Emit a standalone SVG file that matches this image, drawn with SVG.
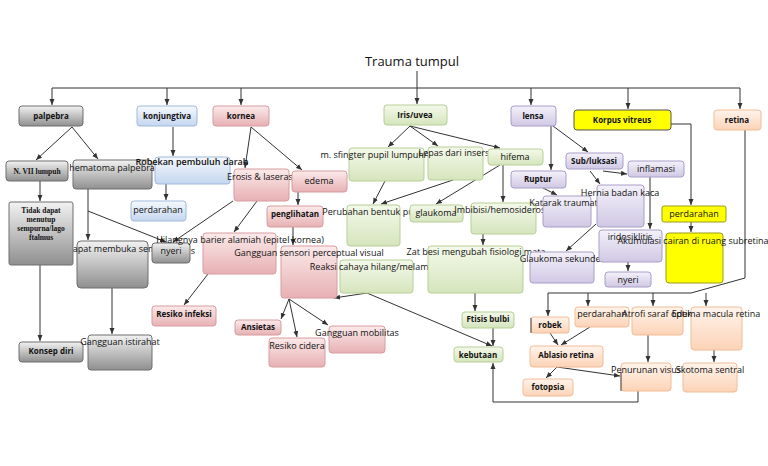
<svg xmlns="http://www.w3.org/2000/svg" width="768" height="466" viewBox="0 0 768 466">
<defs>
<linearGradient id="gGray" x1="0" y1="0" x2="0" y2="1"><stop offset="0" stop-color="#f2f2f2"/><stop offset="1" stop-color="#8f8f8f"/></linearGradient>
<linearGradient id="gBlue" x1="0" y1="0" x2="0" y2="1"><stop offset="0" stop-color="#f5f9fd"/><stop offset="1" stop-color="#c4d6ef"/></linearGradient>
<linearGradient id="gPink" x1="0" y1="0" x2="0" y2="1"><stop offset="0" stop-color="#fbeaea"/><stop offset="1" stop-color="#e7b0b3"/></linearGradient>
<linearGradient id="gGreen" x1="0" y1="0" x2="0" y2="1"><stop offset="0" stop-color="#f4f9ea"/><stop offset="1" stop-color="#d5e5bd"/></linearGradient>
<linearGradient id="gLav" x1="0" y1="0" x2="0" y2="1"><stop offset="0" stop-color="#f4f1fa"/><stop offset="1" stop-color="#d0c8e4"/></linearGradient>
<linearGradient id="gPeach" x1="0" y1="0" x2="0" y2="1"><stop offset="0" stop-color="#fff4ec"/><stop offset="1" stop-color="#fcd3b6"/></linearGradient>
<marker id="arr" markerWidth="6" markerHeight="6" refX="6" refY="3" orient="auto" markerUnits="userSpaceOnUse"><path d="M0,0.5 L6,3 L0,5.5z" fill="#333"/></marker>
</defs>
<style>
.gray{fill:url(#gGray);stroke:#6e6e6e;stroke-width:1}
.blue{fill:url(#gBlue);stroke:#9fb9dd;stroke-width:1}
.pink{fill:url(#gPink);stroke:#d79c9f;stroke-width:1}
.green{fill:url(#gGreen);stroke:#b6cf96;stroke-width:1}
.lav{fill:url(#gLav);stroke:#a99ec8;stroke-width:1}
.peach{fill:url(#gPeach);stroke:#f2bd96;stroke-width:1}
.yel{fill:#ffff00;stroke:#9a9a20;stroke-width:1}
.t{font-family:"Open Sans","DejaVu Sans",sans-serif;font-size:9px;text-anchor:middle;fill:#111}
.b{font-weight:bold;font-size:8px}
.sf{font-family:"Liberation Serif","DejaVu Serif",serif;font-size:7.5px;font-weight:bold;text-anchor:middle;fill:#111}
.c path{fill:none;stroke:#333;stroke-width:1}
.c path.a{marker-end:url(#arr)}
</style>
<rect width="768" height="466" fill="#ffffff"/>
<text x="412" y="66" font-family="Open Sans, DejaVu Sans, sans-serif" font-size="13" text-anchor="middle" fill="#111">Trauma tumpul</text>
<g id="connectors" class="c">
<path class="a" d="M417,71 V104"/>
<path d="M52,88 H740"/>
<path class="a" d="M52,88 V105"/>
<path class="a" d="M167,88 V105"/>
<path class="a" d="M241,88 V105"/>
<path class="a" d="M531,88 V105"/>
<path class="a" d="M628,88 V109"/>
<path class="a" d="M740,88 V109"/>
<path class="a" d="M72,127 L36,160"/>
<path class="a" d="M72,127 L98,159"/>
<path class="a" d="M173,127 V156"/>
<path class="a" d="M166,184 V200"/>
<path class="a" d="M40,181 V201"/>
<path class="a" d="M40,265 V341"/>
<path class="a" d="M88,189 V240"/>
<path class="a" d="M88,211 L166,242"/>
<path class="a" d="M112,288 V334"/>
<path class="a" d="M251,127 L245,168"/>
<path class="a" d="M251,127 L302,170"/>
<path class="a" d="M298,192 V205"/>
<path class="a" d="M257,201 L234,232"/>
<path class="a" d="M233,201 L173,242"/>
<path class="a" d="M293,227 V245"/>
<path class="a" d="M208,274 L184,305"/>
<path class="a" d="M289,299 L281,319"/>
<path class="a" d="M289,299 L297,337"/>
<path class="a" d="M289,299 L328,325"/>
<path class="a" d="M367,293 L334,298"/>
<path class="a" d="M367,293 L492,346"/>
<path class="a" d="M410,126 L388,147"/>
<path class="a" d="M410,126 L438,146"/>
<path class="a" d="M410,126 L500,148"/>
<path class="a" d="M385,181 L373,204"/>
<path class="a" d="M453,180 L381,204"/>
<path class="a" d="M500,165 L436,204"/>
<path class="a" d="M503,165 V202"/>
<path class="a" d="M483,234 V245"/>
<path class="a" d="M475,293 V311"/>
<path class="a" d="M493,328 V346"/>
<path class="a" d="M638,391 V402 H493 V363"/>
<path class="a" d="M551,126 V170"/>
<path class="a" d="M553,126 L588,152"/>
<path class="a" d="M603,171 L627,174"/>
<path class="a" d="M590,171 L600,184"/>
<path class="a" d="M543,188 L557,195"/>
<path class="a" d="M596,224 L566,251"/>
<path class="a" d="M650,177 V229"/>
<path class="a" d="M628,262 V271"/>
<path class="a" d="M671,124 H691 V205"/>
<path class="a" d="M691,222 V232"/>
<path class="a" d="M745,130 V278 L691,293 H548 V316"/>
<path class="a" d="M588,293 V306"/>
<path class="a" d="M653,293 V306"/>
<path class="a" d="M706,293 V306"/>
<path class="a" d="M550,333 L558,345"/>
<path class="a" d="M590,327 L561,345"/>
<path class="a" d="M557,367 L546,378"/>
<path class="a" d="M557,367 L620,376"/>
<path class="a" d="M648,335 V362"/>
<path class="a" d="M714,350 V362"/>
</g>
<g id="palpebra"><rect class="gray" x="19" y="106" width="64" height="20" rx="3"/><text class="t b" x="51" y="119">palpebra</text></g>
<g id="konjungtiva"><rect class="blue" x="137" y="106" width="60" height="20" rx="3"/><text class="t b" x="167" y="119">konjungtiva</text></g>
<g id="kornea"><rect class="pink" x="213" y="106" width="56" height="20" rx="3"/><text class="t b" x="241" y="119">kornea</text></g>
<g id="iris"><rect class="green" x="384" y="105" width="63" height="20" rx="3"/><text class="t b" x="415" y="118">Iris/uvea</text></g>
<g id="lensa"><rect class="lav" x="511" y="106" width="45" height="20" rx="3"/><text class="t b" x="533" y="119">lensa</text></g>
<g id="korpus"><rect x="574" y="110" width="97" height="20" rx="3" fill="#ffff00" stroke="#555" stroke-width="1"/><text class="t b" x="622" y="123">Korpus vitreus</text></g>
<g id="retina"><rect class="peach" x="714" y="110" width="47" height="20" rx="3"/><text class="t b" x="737" y="123">retina</text></g>
<g id="hematoma"><rect class="gray" x="73" y="160" width="79" height="29" rx="3"/><text class="t" x="112" y="171">hematoma palpebra</text></g>
<g id="nvii"><rect class="gray" x="6" y="161" width="62" height="20" rx="3"/><text class="sf" x="37" y="174" font-size="8.5">N. VII lumpuh</text></g>
<g id="robekan"><rect class="blue" x="155" y="157" width="75" height="27" rx="3"/><text class="t" x="192" y="165" font-weight="600">Robekan pembuluh darah</text></g>
<g id="perdarahan1"><rect class="blue" x="131" y="201" width="55" height="20" rx="3"/><text class="t" x="158" y="213">perdarahan</text></g>
<g id="membuka"><rect class="gray" x="77" y="241" width="71" height="47" rx="4"/><text class="t" x="112" y="252">Tidak dapat membuka sempurna</text></g>
<g id="tidak"><rect class="gray" x="9" y="202" width="64" height="63" rx="2"/><text class="sf" x="41" y="213">Tidak dapat</text><text class="sf" x="41" y="222">menutup</text><text class="sf" x="41" y="231">sempurna/lago</text><text class="sf" x="41" y="240">ftalmus</text></g>
<g id="nyeri1"><rect class="gray" x="152" y="243" width="38" height="20" rx="3"/><text class="t" x="171" y="254">nyeri</text></g>
<g id="konsep"><rect class="gray" x="19" y="342" width="64" height="20" rx="3"/><text class="t b" x="51" y="354">Konsep diri</text></g>
<g id="istirahat"><rect class="gray" x="88" y="335" width="64" height="35" rx="3"/><text class="t" x="120" y="345">Gangguan istirahat</text></g>
<g id="erosis"><rect class="pink" x="234" y="169" width="55" height="32" rx="3"/><text class="t" x="261" y="180">Erosis &amp; laserasi</text></g>
<g id="edema"><rect class="pink" x="292" y="171" width="55" height="21" rx="3"/><text class="t" x="319" y="184">edema</text></g>
<g id="penglihatan"><rect class="pink" x="267" y="206" width="56" height="21" rx="3"/><text class="t b" x="295" y="217">penglihatan</text></g>
<g id="hilangnya"><rect class="pink" x="203" y="233" width="73" height="41" rx="3"/><text class="t" x="240" y="243">Hilangnya barier alamiah (epitel kornea)</text><text class="t" x="193" y="254">s</text></g>
<g id="infeksi"><rect class="pink" x="152" y="306" width="64" height="20" rx="3"/><text class="t b" x="184" y="317">Resiko infeksi</text></g>
<g id="ansietas"><rect class="pink" x="235" y="320" width="46" height="15" rx="3"/><text class="t b" x="258" y="330">Ansietas</text></g>
<g id="cidera"><rect class="pink" x="269" y="338" width="56" height="29" rx="3"/><text class="t" x="297" y="349">Resiko cidera</text></g>
<g id="mobilitas"><rect class="pink" x="329" y="326" width="56" height="27" rx="3"/><text class="t" x="357" y="336">Gangguan mobilitas</text></g>
<g id="sfingter"><rect class="green" x="349" y="148" width="75" height="33" rx="3"/><text class="t" x="386" y="158">m. sfingter pupil lumpuh/robek</text></g>
<g id="lepas"><rect class="green" x="428" y="147" width="55" height="33" rx="3"/><text class="t" x="455" y="156">Lepas dari insersi</text></g>
<g id="hifema"><rect class="green" x="488" y="149" width="55" height="16" rx="3"/><text class="t" x="515" y="160">hifema</text></g>
<g id="perubahan"><rect class="green" x="347" y="205" width="53" height="41" rx="3"/><text class="t" x="373" y="215">Perubahan bentuk pupil</text></g>
<g id="gangguan"><rect class="pink" x="281" y="246" width="56" height="52" rx="3"/><text class="t" x="309" y="256">Gangguan sensori perceptual visual</text></g>
<g id="glaukoma"><rect class="green" x="410" y="205" width="53" height="17" rx="3"/><text class="t" x="436" y="216">glaukoma</text></g>
<g id="imbibisi"><rect class="green" x="471" y="203" width="65" height="31" rx="3"/><text class="t" x="503" y="213">Imbibisi/hemosiderosis</text></g>
<g id="reaksi"><rect class="green" x="340" y="260" width="73" height="33" rx="3"/><text class="t" x="376" y="270">Reaksi cahaya hilang/melambat</text></g>
<g id="zatbesi"><rect class="green" x="428" y="246" width="95" height="47" rx="3"/><text class="t" x="476" y="255">Zat besi mengubah fisiologi mata</text></g>
<g id="ftisis"><rect class="green" x="462" y="312" width="52" height="16" rx="3"/><text class="t b" x="488" y="322">Ftisis bulbi</text></g>
<g id="kebutaan"><rect class="green" x="454" y="347" width="49" height="15" rx="3"/><text class="t b" x="478" y="358">kebutaan</text></g>
<g id="ruptur"><rect class="lav" x="511" y="171" width="55" height="17" rx="3"/><text class="t b" x="538" y="182">Ruptur</text></g>
<g id="subluksasi"><rect class="lav" x="566" y="153" width="57" height="16" rx="3"/><text class="t b" x="594" y="164">Sub/luksasi</text></g>
<g id="inflamasi"><rect class="lav" x="628" y="161" width="56" height="16" rx="3"/><text class="t" x="656" y="172">inflamasi</text></g>
<g id="katarak"><rect class="lav" x="543" y="196" width="48" height="31" rx="3"/><text class="t" x="567" y="206">Katarak traumatik</text></g>
<g id="hernia"><rect class="lav" x="597" y="185" width="47" height="42" rx="3"/><text class="t" x="620" y="196">Hernia badan kaca</text></g>
<g id="glaukomasek"><rect class="lav" x="530" y="252" width="64" height="31" rx="3"/><text class="t" x="562" y="262">Glaukoma sekunder</text></g>
<g id="iridosiklitis"><rect class="lav" x="599" y="230" width="63" height="32" rx="3"/><text class="t" x="630" y="240">iridosiklitis</text></g>
<g id="nyeri2"><rect class="lav" x="605" y="272" width="46" height="15" rx="3"/><text class="t" x="628" y="283">nyeri</text></g>
<g id="perdarahan2"><rect class="yel" x="662" y="206" width="64" height="16" rx="2"/><text class="t" x="694" y="217">perdarahan</text></g>
<g id="akumulasi"><rect class="yel" x="666" y="233" width="57" height="50" rx="3"/><text class="t" x="693" y="244">Akumulasi cairan di ruang subretina</text></g>
<g id="robek"><rect class="peach" x="531" y="317" width="38" height="16" rx="2"/><line x1="531" y1="318" x2="531" y2="333" stroke="#444"/><text class="t b" x="550" y="328">robek</text></g>
<g id="perdarahan3"><rect class="peach" x="575" y="307" width="54" height="20" rx="3"/><text class="t" x="602" y="317">perdarahan</text></g>
<g id="atrofi"><rect class="peach" x="632" y="307" width="51" height="28" rx="3"/><text class="t" x="657" y="317">Atrofi saraf optik</text></g>
<g id="edemamacula"><rect class="peach" x="691" y="307" width="51" height="43" rx="3"/><text class="t" x="716" y="317">Edema macula retina</text></g>
<g id="ablasio"><rect class="peach" x="530" y="346" width="73" height="21" rx="3"/><text class="t b" x="566" y="358">Ablasio retina</text></g>
<g id="fotopsia"><rect class="peach" x="523" y="379" width="50" height="17" rx="3"/><text class="t b" x="548" y="390">fotopsia</text></g>
<g id="penurunan"><rect class="peach" x="621" y="363" width="50" height="28" rx="3"/><line x1="621" y1="372" x2="621" y2="391" stroke="#444"/><text class="t" x="646" y="373">Penurunan visus</text></g>
<g id="skotoma"><rect class="peach" x="683" y="363" width="54" height="29" rx="3"/><text class="t" x="710" y="373">Skotoma sentral</text></g>
</svg>
